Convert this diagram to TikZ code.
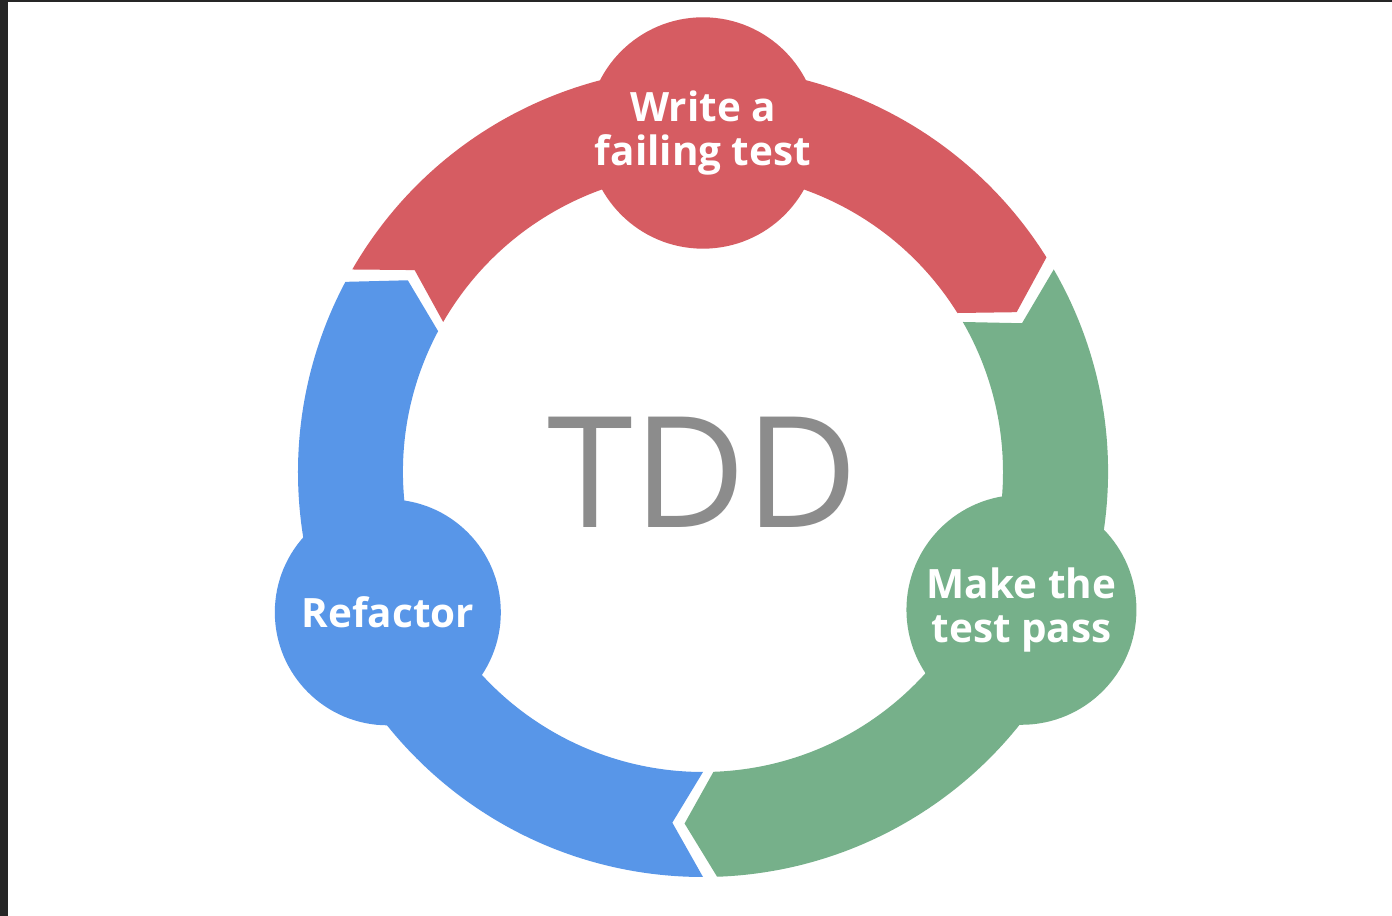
\documentclass[tikz,border=0pt]{standalone}
\usepackage{fontspec}
\setmainfont{Open Sans}
\usepackage{xcolor}
\usepackage{tikz}
\usetikzlibrary{positioning, calc}
\definecolor{tddred}{RGB}{214,92,98}
\definecolor{tddgreen}{RGB}{118,176,138}
\definecolor{tddblue}{RGB}{88,150,232}
\definecolor{tddgray}{RGB}{140,140,140}

% clockwise ring piece: start angle, end angle, colour
\newcommand{\ringpiece}[3]{%
  \fill[#3] (#1:4.05) arc[start angle=#1, end angle=#2, radius=4.05]
    -- ({#2-5}:3.52) -- (#2:3.0) arc[start angle=#2, end angle=#1, radius=3.0]
    -- ({#1-5}:3.52) -- cycle;}

\begin{document}
\begin{tikzpicture}[
    phase/.style={circle, minimum size=2.2cm, inner sep=0pt, align=center, text=white,
      font=\bfseries\fontsize{11.5}{12.5}\selectfont},
    title/.style={text=tddgray, font=\fontsize{44}{44}\selectfont}
]
\useasboundingbox[fill=white] (-7.03,-4.44) rectangle (6.89,4.72);
\fill[black!85] (-7.03,-4.44) rectangle (-6.95,4.72);
\fill[black!85] (-7.03,4.70) rectangle (6.89,4.72);

% Ring
\ringpiece{150}{32}{tddred}
\ringpiece{30}{-88}{tddgreen}
\ringpiece{-90}{-208}{tddblue}

% Phases
\node[phase, fill=tddred, minimum size=2.12cm] (write) at (90:3.39) {Write a\\failing test};
\node[phase, fill=tddgreen, minimum size=2.3cm] (pass) at (-23.4:3.47) {Make the\\test pass};
\node[phase, fill=tddblue, minimum size=2.26cm] (refactor) at (204:3.45) {Refactor};

% Centre
\node[title] (tdd) at (0,0) {TDD};

\end{tikzpicture}
\end{document}
